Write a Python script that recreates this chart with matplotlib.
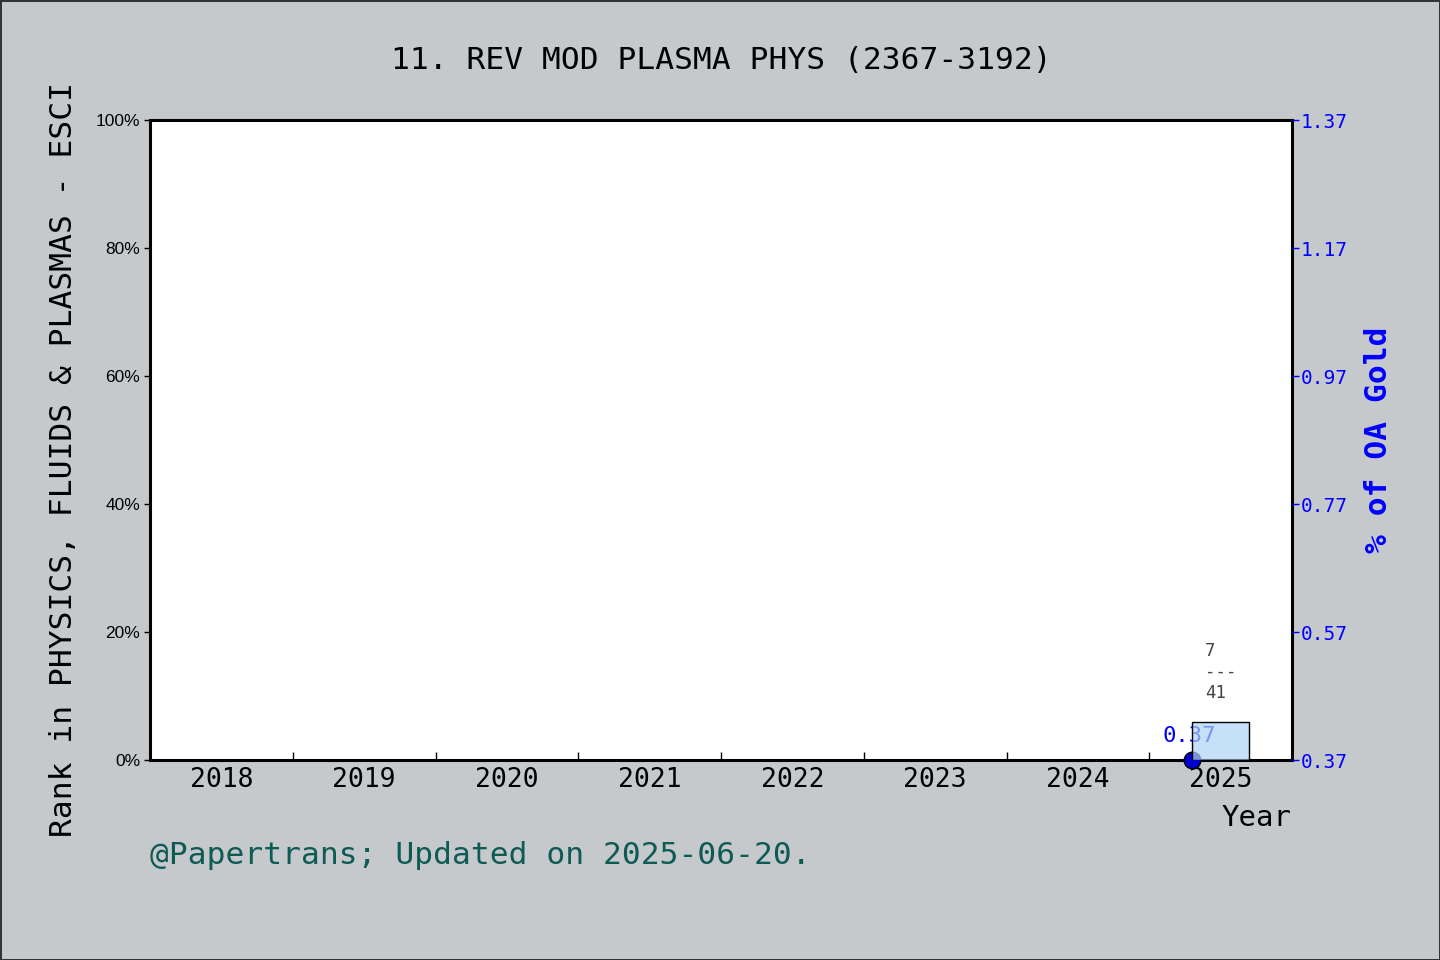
import matplotlib
matplotlib.use("Agg")
import matplotlib.pyplot as plt

# data
years = [2018, 2019, 2020, 2021, 2022, 2023, 2024, 2025]
rank_years = [2025]
rank_pct = [5.9]
rank_text = ["7\n---\n41"]
oa_years = [2025]
oa_gold = [0.37]
right_ticks = [0.37, 0.57, 0.77, 0.97, 1.17, 1.37]
left_ticks = [0, 20, 40, 60, 80, 100]

title = "11. REV MOD PLASMA PHYS (2367-3192)"
ylabel = "Rank in PHYSICS, FLUIDS & PLASMAS - ESCI"
footer = "@Papertrans; Updated on 2025-06-20."

mono = "DejaVu Sans Mono"
bg = "#c5c9cc"

fig = plt.figure(figsize=(14.4, 9.6), dpi=100, facecolor=bg,
                 edgecolor="#333333", linewidth=1)
ax = fig.add_axes([150 / 1440, 200 / 960, 1142 / 1440, 640 / 960])
ax.set_facecolor("white")

ax.set_xlim(2017.5, 2025.5)
ax.set_ylim(0, 100)
for s in ax.spines.values():
    s.set_linewidth(2.2)
    s.set_color("black")

ax.set_xticks(years)
ax.set_xticklabels([str(y) for y in years], fontfamily=mono, fontsize=19)
ax.tick_params(axis="x", length=0, pad=5)
ax.set_xticks([y + 0.5 for y in years[:-1]], minor=True)
ax.tick_params(axis="x", which="minor", direction="in", length=6, width=1)

ax.set_yticks(left_ticks)
ax.set_yticklabels([f"{v}%" for v in left_ticks], fontfamily="Liberation Sans",
                   fontsize=12.5)
ax.tick_params(axis="y", length=4, width=1, pad=3)

ax.set_title(title, fontfamily=mono, fontsize=22.5, pad=37)
ax.set_ylabel(ylabel, fontfamily=mono, fontsize=22.5)
ax.yaxis.set_label_coords(-0.063, 0.469)
ax.set_xlabel("Year", fontfamily=mono, fontsize=21, loc="right", labelpad=8)

ax2 = ax.twinx()
ax2.set_ylim(0.37, 1.37)
ax2.set_yticks(right_ticks)
ax2.set_yticklabels([f"{v:.2f}" for v in right_ticks], fontfamily=mono,
                    fontsize=14, color="blue")
ax2.tick_params(axis="y", colors="blue", length=5, width=1, pad=1)
ax2.set_ylabel("% of OA Gold", fontfamily=mono, fontsize=22.5, color="blue",
               fontweight="bold", labelpad=12)
for s in ax2.spines.values():
    s.set_visible(False)

# OA gold point and label (below the bar)
ax2.plot([y - 0.2 for y in oa_years], oa_gold, "o", color="#0000cc",
         markeredgecolor="black", markersize=12, clip_on=False, zorder=2)
for x, v in zip(oa_years, oa_gold):
    ax2.annotate(f"{v:.2f}", (x - 0.2, v), xytext=(-2, 10),
                 textcoords="offset points", ha="center", va="bottom",
                 fontfamily=mono, fontsize=16, color="blue", zorder=2)

# rank bar on top, semi-transparent fill
ax3 = ax.twinx()
ax3.set_ylim(0, 100)
ax3.set_yticks([])
for s in ax3.spines.values():
    s.set_visible(False)
ax3.bar(rank_years, rank_pct, width=0.4,
        color=(174 / 255, 211 / 255, 244 / 255, 0.7),
        edgecolor="black", linewidth=1, zorder=3)
for x, h, t in zip(rank_years, rank_pct, rank_text):
    ax3.text(x, h + 3.2, t, ha="center", va="bottom", multialignment="left",
             fontfamily=mono, fontsize=12.5, color="#444444",
             linespacing=1.2)

fig.text(150 / 1440, 1 - 855 / 960, footer, fontfamily=mono, fontsize=22.5,
         color="#0e5a55", ha="left", va="center")

fig.savefig("out.png", dpi=100, facecolor=bg, edgecolor="#333333")
